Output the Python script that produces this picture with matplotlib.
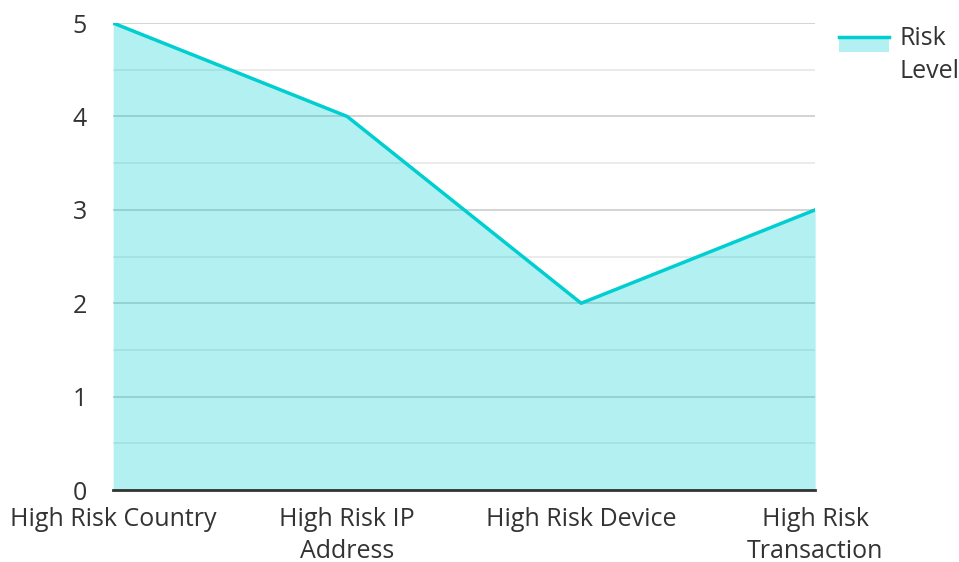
import matplotlib.pyplot as plt
from matplotlib.patches import Rectangle
from matplotlib.lines import Line2D
from matplotlib.legend_handler import HandlerBase

# data
categories = ["High Risk Country", "High Risk IP\nAddress", "High Risk Device", "High Risk\nTransaction"]
risk_level = [5, 4, 2, 3]

line_color = "#00CED1"

plt.rcParams["font.family"] = ["Open Sans", "DejaVu Sans"]


class LineOverPatch(HandlerBase):
    # patch with a line along its top edge, sitting next to the first text line
    def create_artists(self, legend, orig_handle, xdescent, ydescent,
                       width, height, fontsize, trans):
        h = 11
        y0 = -ydescent + height + 7
        r = Rectangle((-xdescent, y0 - h), width, h,
                      facecolor=line_color, alpha=0.3, edgecolor="none", transform=trans)
        l = Line2D([-xdescent, -xdescent + width], [y0, y0], color=line_color, lw=2.5, transform=trans)
        return [r, l]


fig = plt.figure(figsize=(9.59, 5.62), dpi=100)
ax = fig.add_axes([0.118, 0.128, 0.732, 0.831])

x = list(range(len(categories)))
ax.fill_between(x, risk_level, 0, color=line_color, alpha=0.3, lw=0, zorder=2)
ax.plot(x, risk_level, color=line_color, lw=2.5, zorder=3)

ax.set_xlim(0, len(categories) - 1)
ax.set_ylim(0, 5)
ax.set_yticks([0, 1, 2, 3, 4, 5])
ax.set_yticks([0.5, 1.5, 2.5, 3.5, 4.5], minor=True)
ax.grid(True, which="major", axis="y", color="#cccccc", lw=1.2, zorder=1)
ax.grid(True, which="minor", axis="y", color="#e8e8e8", lw=1.2, zorder=1)
ax.set_axisbelow(True)

ax.set_xticks(x)
ax.set_xticklabels(categories, linespacing=1.38)
ax.tick_params(axis="both", which="both", length=0, labelsize=18, labelcolor="#333333")
ax.tick_params(axis="y", pad=19)
ax.tick_params(axis="x", pad=12)

for s in ["top", "right", "left"]:
    ax.spines[s].set_visible(False)
ax.spines["bottom"].set_color("#333333")
ax.spines["bottom"].set_linewidth(2)

handle = Rectangle((0, 0), 1, 1)
leg = ax.legend([handle], ["Risk\nLevel"], handler_map={Rectangle: LineOverPatch()},
                loc="upper left", bbox_to_anchor=(1.02, 1.015), frameon=False,
                fontsize=18, handlelength=2.0, handletextpad=0.4,
                labelcolor="#333333", borderaxespad=0)
for t in leg.get_texts():
    t.set_linespacing(1.4)

fig.savefig("out.png", dpi=100)
